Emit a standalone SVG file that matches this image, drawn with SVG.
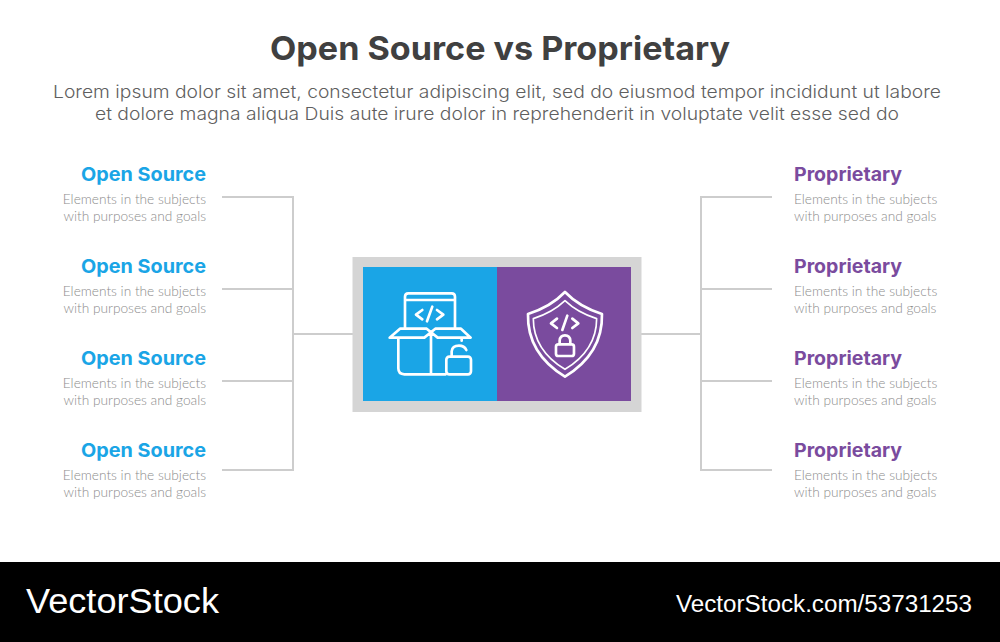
<svg xmlns="http://www.w3.org/2000/svg" width="1000" height="642" viewBox="0 0 1000 642">
<style>
.title{font:700 33px Inter,"Open Sans",sans-serif;fill:#404040}
.sub{font:300 17.5px Inter,"Open Sans",sans-serif;fill:#5f5f5f}
.hl{font:700 19px Inter,"Open Sans",sans-serif;fill:#1aa5e6}
.hr{font:700 19px Inter,"Open Sans",sans-serif;fill:#7a4b9e}
.d{font:300 13.7px Lato,"Open Sans",sans-serif;fill:#8c8c8c}
.conn{fill:none;stroke:#cdcdcd;stroke-width:2}
.ic{fill:none;stroke:#fff;stroke-width:8;stroke-linejoin:round;stroke-linecap:round}
</style>
<rect width="1000" height="642" fill="#fff"/>
<g id="heading">
<text class="title" x="500" y="60" text-anchor="middle" textLength="460" lengthAdjust="spacingAndGlyphs">Open Source vs Proprietary</text>
<text class="sub" x="497" y="98" text-anchor="middle" textLength="888" lengthAdjust="spacingAndGlyphs">Lorem ipsum dolor sit amet, consectetur adipiscing elit, sed do eiusmod tempor incididunt ut labore</text>
<text class="sub" x="497" y="120" text-anchor="middle" textLength="804" lengthAdjust="spacingAndGlyphs">et dolore magna aliqua Duis aute irure dolor in reprehenderit in voluptate velit esse sed do</text>
</g>
<g id="connectors" class="conn">
<path d="M222 197H293V470H222M222 289H293M222 381H293M293 334H353"/>
<path d="M772 197H701V470H772M772 289H701M772 381H701M701 334H641"/>
</g>
<g id="center">
<rect x="352.500" y="257" width="289" height="155" fill="#d5d5d5"/>
<rect x="363" y="267" width="134" height="134" fill="#1aa5e6"/>
<rect x="497" y="267" width="134" height="134" fill="#7a4b9e"/>
<g transform="translate(345 250) scale(.3333)" class="ic">
<path d="M180 235V140Q180 130 190 130H320Q330 130 330 140V235M180 150H330"/>
<path d="M232 180L213 194L232 208M276 180L295 194L276 208M262 170L246 214"/>
<path d="M134 263L165 236H245L258 247L271 236H348L377 263H278L258 247L238 263ZM160 263V355Q160 373 178 373H302M258 247V373M350 263V272"/>
<rect x="304" y="320" width="74" height="53" rx="9"/>
<path d="M320 318V304Q322 287 342 287Q358 287 364 300"/>
<path d="M660 126Q702 170 771 192Q774 310 660 380Q546 310 549 192Q618 170 660 126Z"/>
<path d="M660 152Q698 188 755 206Q755 300 660 358Q565 300 565 206Q622 188 660 152Z" style="stroke-width:5"/>
<path d="M636 206L618 220L636 234M682 206L700 220L682 234M667 197L652 240"/>
<rect x="633" y="283" width="54" height="35" rx="7"/>
<path d="M644 282V272Q645 256 660 256Q675 256 676 272V282"/>
</g>
</g>
<g id="left-1"><text class="hl" x="206" y="181" text-anchor="end" textLength="125" lengthAdjust="spacingAndGlyphs">Open Source</text><text class="d" x="206" y="204" text-anchor="end">Elements in the subjects</text><text class="d" x="206" y="221" text-anchor="end">with purposes and goals</text></g>
<g id="left-2"><text class="hl" x="206" y="273" text-anchor="end" textLength="125" lengthAdjust="spacingAndGlyphs">Open Source</text><text class="d" x="206" y="296" text-anchor="end">Elements in the subjects</text><text class="d" x="206" y="313" text-anchor="end">with purposes and goals</text></g>
<g id="left-3"><text class="hl" x="206" y="365" text-anchor="end" textLength="125" lengthAdjust="spacingAndGlyphs">Open Source</text><text class="d" x="206" y="388" text-anchor="end">Elements in the subjects</text><text class="d" x="206" y="405" text-anchor="end">with purposes and goals</text></g>
<g id="left-4"><text class="hl" x="206" y="457" text-anchor="end" textLength="125" lengthAdjust="spacingAndGlyphs">Open Source</text><text class="d" x="206" y="480" text-anchor="end">Elements in the subjects</text><text class="d" x="206" y="497" text-anchor="end">with purposes and goals</text></g>
<g id="right-1"><text class="hr" x="794" y="181" textLength="108" lengthAdjust="spacingAndGlyphs">Proprietary</text><text class="d" x="794" y="204">Elements in the subjects</text><text class="d" x="794" y="221">with purposes and goals</text></g>
<g id="right-2"><text class="hr" x="794" y="273" textLength="108" lengthAdjust="spacingAndGlyphs">Proprietary</text><text class="d" x="794" y="296">Elements in the subjects</text><text class="d" x="794" y="313">with purposes and goals</text></g>
<g id="right-3"><text class="hr" x="794" y="365" textLength="108" lengthAdjust="spacingAndGlyphs">Proprietary</text><text class="d" x="794" y="388">Elements in the subjects</text><text class="d" x="794" y="405">with purposes and goals</text></g>
<g id="right-4"><text class="hr" x="794" y="457" textLength="108" lengthAdjust="spacingAndGlyphs">Proprietary</text><text class="d" x="794" y="480">Elements in the subjects</text><text class="d" x="794" y="497">with purposes and goals</text></g>
<g id="footer">
<rect x="0" y="562" width="1000" height="80" fill="#000"/>
<text x="26" y="613" font-family="Liberation Sans, sans-serif" font-size="35" fill="#fff" textLength="193" lengthAdjust="spacingAndGlyphs">VectorStock</text>
<text x="676" y="612" font-family="Liberation Sans, sans-serif" font-size="23" fill="#fff" textLength="296" lengthAdjust="spacingAndGlyphs">VectorStock.com/53731253</text>
</g>
</svg>
